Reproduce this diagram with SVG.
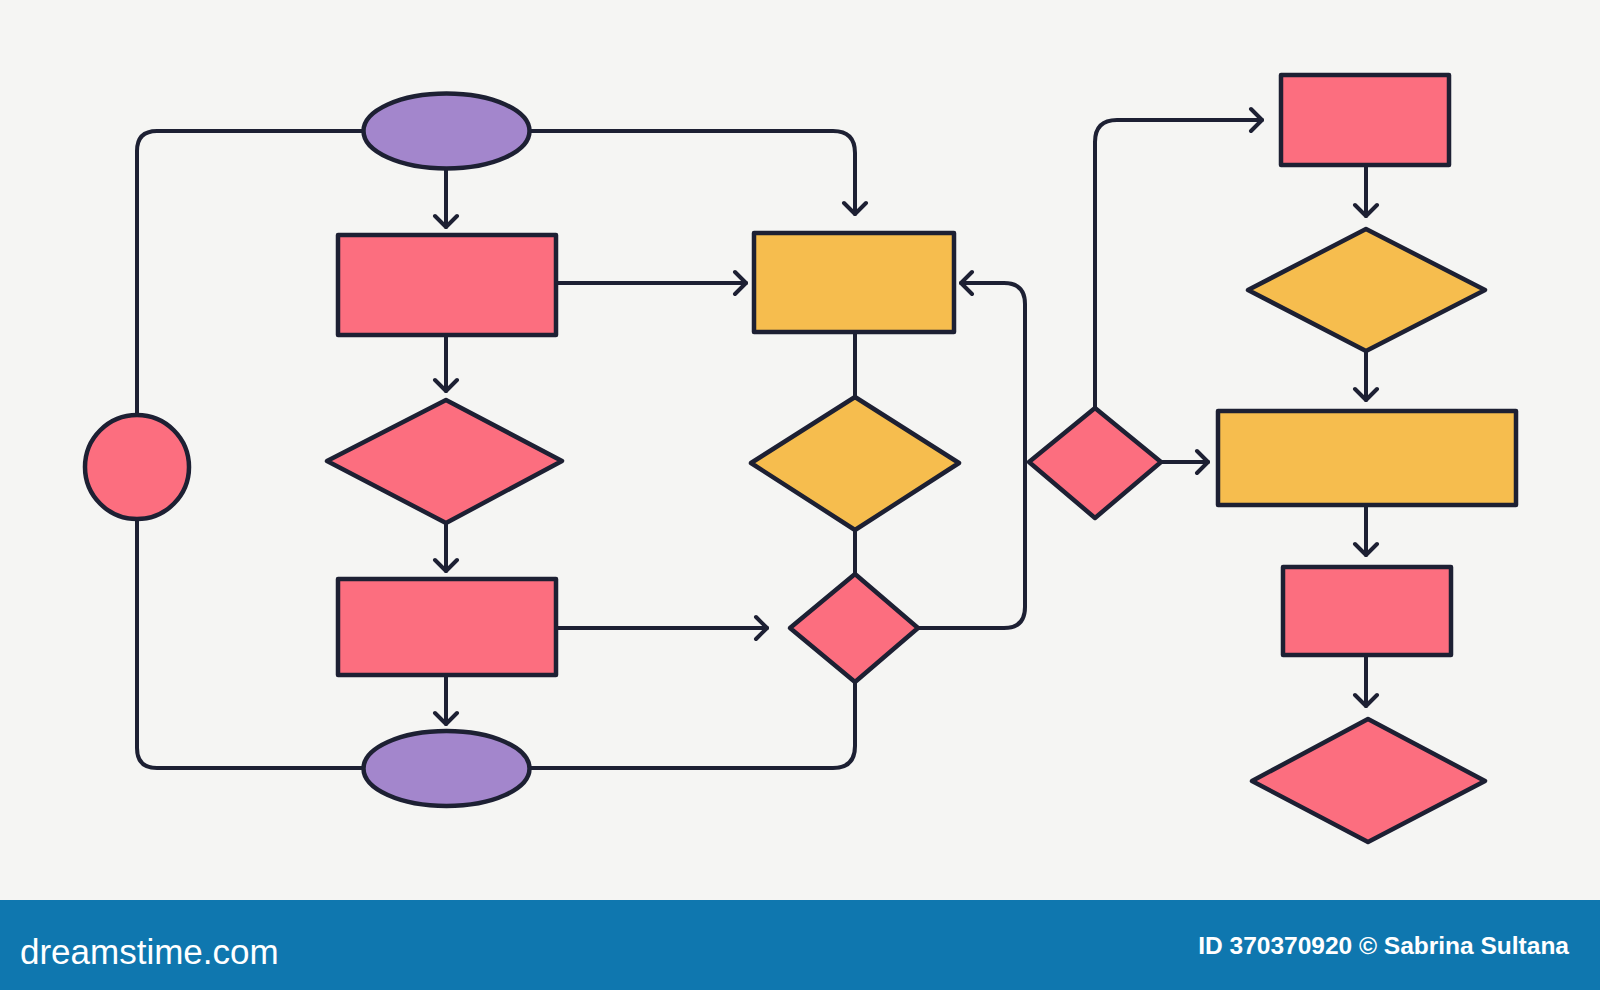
<svg xmlns="http://www.w3.org/2000/svg" width="1600" height="990" viewBox="0 0 1600 990">
<defs>
<style>
.n{stroke:#1d2033;stroke-width:4.5;stroke-linejoin:round}
.pink{fill:#fc6e7f}
.yel{fill:#f6bd4e}
.pur{fill:#a386cc}
.c{fill:none;stroke:#1d2033;stroke-width:4;stroke-linecap:round;stroke-linejoin:round}
.a{marker-end:url(#arr)}
.bt{fill:#ffffff;font-family:"Liberation Sans",Arial,sans-serif}
</style>
<marker id="arr" viewBox="-16 -14 18 28" markerWidth="18" markerHeight="28" refX="0" refY="0" orient="auto" markerUnits="userSpaceOnUse">
<path d="M-11,-11 L0,0 L-11,11" fill="none" stroke="#1d2033" stroke-width="4" stroke-linecap="round" stroke-linejoin="round"/>
</marker>
</defs>
<rect x="0" y="0" width="1600" height="990" fill="#f5f5f3"/>

<g id="connectors">
<path class="c" d="M363,131 H157 Q137,131 137,151 V415"/>
<path class="c" d="M137,519 V748 Q137,768 157,768 H363"/>
<path class="c a" d="M530,131 H833 Q855,131 855,153 V214"/>
<path class="c a" d="M446,168 V227"/>
<path class="c a" d="M556,283 H746"/>
<path class="c a" d="M446,335 V391"/>
<path class="c a" d="M446,523 V571"/>
<path class="c a" d="M556,628 H767"/>
<path class="c a" d="M446,675 V724"/>
<path class="c" d="M855,332 V397"/>
<path class="c" d="M855,530 V574"/>
<path class="c" d="M855,682 V746 Q855,768 833,768 H530"/>
<path class="c a" d="M918,628 H1004 Q1025,628 1025,607 V304 Q1025,283 1004,283 H961"/>
<path class="c a" d="M1095,408 V142 Q1095,120 1117,120 H1262"/>
<path class="c a" d="M1161,462 H1208"/>
<path class="c a" d="M1366,165 V216"/>
<path class="c a" d="M1366,351 V400"/>
<path class="c a" d="M1366,505 V555"/>
<path class="c a" d="M1366,655 V706"/>
</g>

<g id="start"><ellipse class="n pur" cx="446.5" cy="131" rx="83" ry="37.5"/></g>
<g id="end"><ellipse class="n pur" cx="446.5" cy="768.5" rx="83" ry="37.5"/></g>
<g id="circle"><circle class="n pink" cx="137" cy="467" r="52"/></g>
<g id="rect1"><rect class="n pink" x="338" y="235" width="218" height="100"/></g>
<g id="diamond1"><polygon class="n pink" points="446,400 562,461 446,523 327,461"/></g>
<g id="rect2"><rect class="n pink" x="338" y="579" width="218" height="96"/></g>
<g id="yrect"><rect class="n yel" x="754" y="233" width="200" height="99"/></g>
<g id="ydiamond"><polygon class="n yel" points="855,397 959,463 855,530 751,463"/></g>
<g id="sdiamond"><polygon class="n pink" points="855,574 918,628 855,682 790,628"/></g>
<g id="mdiamond"><polygon class="n pink" points="1095,408 1161,462 1095,518 1029,462"/></g>
<g id="rrect1"><rect class="n pink" x="1281" y="75" width="168" height="90"/></g>
<g id="rdiamond1"><polygon class="n yel" points="1366,229 1485,290 1366,351 1248,290"/></g>
<g id="rrect2"><rect class="n yel" x="1218" y="411" width="298" height="94"/></g>
<g id="rrect3"><rect class="n pink" x="1283" y="567" width="168" height="88"/></g>
<g id="rdiamond2"><polygon class="n pink" points="1368,719 1485,781 1368,842 1252,781"/></g>

<g id="banner">
<rect x="0" y="900" width="1600" height="90" fill="#0f77af"/>
<text class="bt" x="20" y="964" font-size="35">dreamstime.com</text>
<text class="bt" x="1569" y="954" font-size="24.5" font-weight="bold" text-anchor="end">ID 370370920 © Sabrina Sultana</text>
</g>
</svg>
